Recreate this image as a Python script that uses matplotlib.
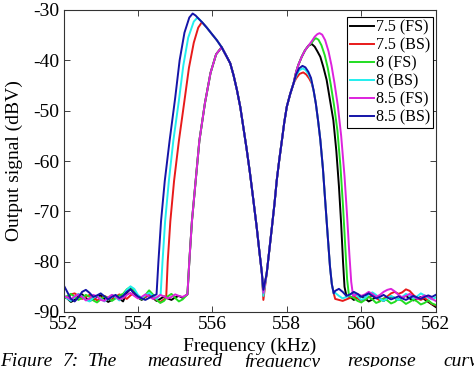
#  Setup required modules.
import matplotlib
matplotlib.use("Agg")
import matplotlib.pyplot as plt
import numpy as np

#  Legend labels and line colours (MATLAB style).
ls_labels = ["7.5 (FS)", "7.5 (BS)", "8 (FS)", "8 (BS)", "8.5 (FS)", "8.5 (BS)"]
ls_colors = ["#000000", "#e81a1a", "#22dd22", "#22eeee", "#dd22dd", "#1414a8"]

#  Noise floor before the jump, sampled every 0.1 kHz from 552 kHz.
na_left_black = [-87.0, -87.3, -88.0, -87.6, -86.8, -86.5, -87.2, -87.8, -87.5, -87.0, -86.7,
	-87.4, -88.0, -87.6, -86.9, -87.3, -87.9, -86.2, -85.4, -86.3, -87.1, -87.6, -87.0, -86.6,
	-87.2, -87.8, -87.4, -86.9, -87.3, -87.6, -87.1, -86.8, -87.2]
na_left_red = [-86.9, -87.2, -86.5, -86.3, -86.8, -87.4, -87.0, -86.6, -87.1, -87.7, -87.3,
	-86.8, -87.2, -87.6, -87.0, -86.5, -86.9, -87.4, -86.7, -86.2, -86.8, -87.3, -87.0, -86.6,
	-87.1, -87.6, -88.0, -87.5]
na_left_green = [-87.5, -86.8, -86.4, -87.0, -87.6, -87.2, -86.6, -87.0, -87.7, -88.1, -87.5,
	-86.9, -87.2, -87.8, -87.3, -86.7, -86.4, -85.5, -85.0, -85.8, -86.9, -87.5, -86.6, -85.7,
	-86.5, -87.6, -88.2, -87.8, -86.9, -86.4, -87.2, -87.9, -87.5]
na_left_cyan = [-86.6, -87.3, -87.8, -87.0, -86.4, -86.9, -87.6, -87.9, -87.2, -86.8, -87.4,
	-87.9, -87.3, -86.6, -87.1, -87.7, -86.8, -85.6, -84.9, -85.4, -86.6, -87.2, -86.7, -86.2,
	-86.8, -87.4]
na_left_magenta = [-86.8, -87.1, -87.5, -86.9, -86.5, -87.0, -87.7, -87.3, -86.6, -86.9, -87.6,
	-87.8, -87.1, -86.6, -86.9, -87.5, -87.2, -86.6, -86.2, -86.8, -87.3, -87.0, -86.5, -86.9,
	-87.4, -87.1, -86.6, -86.9, -87.3, -87.0, -86.5, -86.8, -87.0]
na_left_blue = [-84.6, -86.0, -87.4, -87.9, -87.1, -86.0, -85.6, -86.2, -87.0, -86.7, -86.3,
	-86.9, -87.5, -87.0, -86.6, -87.2, -86.8, -86.0, -85.5, -86.2, -86.9, -87.3, -87.6, -87.2,
	-86.8]

#  Noise floor after the drop, sampled every 0.1 kHz up to 562 kHz.
na_right_black = [-87.0, -87.6, -87.2, -86.8, -87.3, -87.9, -87.5, -87.0, -87.4, -87.8, -87.3,
	-86.9, -87.2, -87.6, -87.1, -86.8, -87.3, -87.7, -87.4, -87.0, -87.5, -88.0, -88.5, -89.0]
na_right_red = [-87.4, -87.6, -87.8, -87.5, -87.2, -86.9, -87.3, -87.8, -87.5, -87.0, -86.8,
	-87.2, -87.7, -87.4, -86.9, -86.3, -86.0, -86.4, -86.1, -85.5, -85.8, -86.6, -87.3, -87.6,
	-87.2, -87.8, -88.4, -88.7]
na_right_green = [-87.2, -87.8, -88.1, -87.6, -87.0, -87.5, -88.2, -87.9, -87.3, -87.7, -88.3,
	-88.0, -87.4, -87.8, -88.4, -88.0, -87.5, -87.9, -88.5, -88.2, -87.7, -88.3, -88.6]
na_right_cyan = [-86.2, -86.8, -87.3, -87.0, -86.5, -86.2, -86.9, -87.6, -87.2, -86.5, -86.1,
	-86.6, -87.4, -87.8, -87.3, -86.8, -87.2, -87.6, -87.0, -86.4, -86.8, -87.3, -86.9, -86.3,
	-86.7, -87.2, -87.5, -87.1]
na_right_magenta = [-86.4, -86.8, -86.5, -86.0, -86.4, -87.0, -86.6, -86.0, -85.6, -85.4, -85.9,
	-86.6, -87.1, -86.8, -86.4, -86.9, -87.4, -87.1, -86.7, -87.0, -87.4, -87.8]
na_right_blue = [-85.8, -85.4, -86.0, -86.8, -86.5, -86.0, -86.4, -87.0, -86.7, -86.3, -86.8,
	-87.3, -87.0, -86.6, -87.1, -87.5, -87.2, -86.9, -87.3, -87.6, -87.2, -86.8, -87.1, -87.4,
	-87.0, -86.7, -87.0, -86.6]

#  Start frequency of each right-hand noise floor (kHz).
ls_right_start = [559.7, 559.3, 559.8, 559.3, 559.9, 559.3]

#  Jump-up edges of the first peak (kHz, dBV).
f_rise_fs = [555.33, 555.38, 555.45, 555.55, 555.65, 555.80, 555.95, 556.10, 556.25]
v_rise_fs = [-86.5, -80.0, -72.0, -64.0, -56.0, -48.5, -42.5, -38.8, -37.4]
f_rise_red = [554.76, 554.80, 554.87, 554.97, 555.10, 555.25, 555.37, 555.50, 555.62, 555.72]
v_rise_red = [-87.0, -80.0, -72.0, -64.0, -56.0, -48.0, -41.5, -36.5, -33.5, -32.4]
f_rise_cyan = [554.61, 554.66, 554.73, 554.83, 554.95, 555.10, 555.22, 555.35, 555.50, 555.60]
v_rise_cyan = [-86.5, -80.0, -72.0, -64.0, -56.0, -48.0, -41.0, -35.5, -32.3, -31.5]
f_rise_blue = [554.50, 554.55, 554.62, 554.72, 554.85, 555.00, 555.12, 555.25, 555.38, 555.47]
v_rise_blue = [-86.5, -80.0, -72.0, -64.0, -56.0, -47.5, -40.0, -34.5, -31.5, -30.7]

#  Shared falling side of the first peak.
f_fall1 = [555.55, 555.60, 555.72, 555.85, 556.00, 556.12, 556.25, 556.38, 556.48, 556.57,
	556.66, 556.75, 556.83, 556.92, 557.01, 557.10, 557.19, 557.26, 557.33]
v_fall1 = [-31.1, -31.5, -32.4, -33.5, -34.9, -36.0, -37.4, -39.2, -40.6, -43.0,
	-45.9, -49.3, -53.2, -57.6, -62.4, -67.7, -73.1, -77.8, -82.3]

#  Dip between the peaks, one value per curve.
f_dip = 557.37
ls_dip = [-86.5, -87.6, -86.3, -86.8, -86.2, -85.6]

#  Shared rising side of the second peak.
f_rise2 = [557.46, 557.53, 557.60, 557.67, 557.73, 557.80, 557.87, 557.93, 558.00, 558.09, 558.18]
v_rise2 = [-82.3, -77.7, -73.1, -68.4, -63.8, -59.6, -55.8, -52.4, -49.2, -46.7, -44.6]

#  Top of the second peak, backward sweeps.
f_top_red = [558.25, 558.34, 558.44, 558.52, 558.60, 558.67]
v_top_red = [-43.6, -42.7, -42.4, -42.8, -43.6, -44.6]
f_top_cyan = [558.25, 558.33, 558.43, 558.50, 558.58, 558.65]
v_top_cyan = [-43.1, -42.0, -41.6, -41.9, -42.7, -43.8]
f_top_blue = [558.25, 558.33, 558.42, 558.50, 558.58, 558.65]
v_top_blue = [-42.8, -41.6, -41.1, -41.4, -42.3, -43.5]

#  Shared falling side of the second peak, backward sweeps.
f_fall_bs = [558.72, 558.78, 558.84, 558.90, 558.97, 559.03, 559.10, 559.16, 559.21, 559.26]
v_fall_bs = [-46.0, -48.6, -52.0, -55.8, -61.5, -67.8, -75.0, -81.0, -84.5, -86.3]

#  Shared upper part of the second peak, forward sweeps.
f_top_fs = [558.25, 558.31, 558.40, 558.49, 558.58]
v_top_fs = [-42.3, -40.9, -39.3, -38.0, -37.1]

#  Peak and falling side of the second peak, forward sweeps.
f_fall_black = [558.67, 558.75, 558.82, 558.90, 558.98, 559.07, 559.16, 559.25, 559.33, 559.40,
	559.46, 559.51, 559.55, 559.60]
v_fall_black = [-36.75, -37.3, -38.2, -39.3, -41.3, -43.9, -47.9, -51.9, -58.0, -65.0,
	-72.5, -80.0, -85.0, -86.8]
f_fall_green = [558.67, 558.73, 558.78, 558.85, 558.93, 559.02, 559.10, 559.18, 559.27, 559.36,
	559.44, 559.51, 559.57, 559.62, 559.67]
v_fall_green = [-36.5, -35.9, -35.6, -35.9, -37.0, -39.0, -41.5, -44.8, -49.0, -54.0,
	-61.0, -69.0, -77.0, -83.5, -86.8]
f_fall_magenta = [558.67, 558.75, 558.82, 558.88, 558.95, 559.03, 559.12, 559.20, 559.28, 559.37,
	559.46, 559.55, 559.62, 559.68, 559.73, 559.78]
v_fall_magenta = [-36.2, -35.3, -34.8, -34.6, -34.9, -36.0, -38.2, -41.0, -44.5, -49.0,
	-55.0, -63.0, -71.0, -78.5, -84.0, -86.8]

#  Caption words and their left edges (pixels).
ls_caption = ["Figure", "7:", "The", "measured", "frequency", "response", "curve"]
ls_caption_x = [0, 63, 88, 147, 245, 347, 443]


def build_curve(na_left, f_rise, v_rise, dip, f_top, v_top, f_fall, v_fall, f_right, na_right):
	#  Noise floor before the jump.
	f_l = 552.0 + 0.1 * np.arange(len(na_left))
	#  Falling side of the first peak, only after this curve's peak.
	f1 = np.array(f_fall1)
	v1 = np.array(v_fall1)
	keep = f1 > f_rise[-1]
	f_r = f_right + 0.1 * np.arange(len(na_right))
	f = np.concatenate([f_l, f_rise, f1[keep], [f_dip], f_rise2, f_top, f_fall, f_r])
	v = np.concatenate([na_left, v_rise, v1[keep], [dip], v_rise2, v_top, v_fall, na_right])
	return f, v


def plot_response():
	plt.rcParams["font.family"] = ["Liberation Serif", "DejaVu Serif"]
	plt.rcParams["axes.unicode_minus"] = False

	fig = plt.figure(figsize=(4.74, 3.67), dpi=100)
	ax = fig.add_axes([63.5 / 474, 55.0 / 367, 372.2 / 474, 302.0 / 367])

	#  Assemble the six curves from the shared pieces.
	l_curves = [
		build_curve(na_left_black, f_rise_fs, v_rise_fs, ls_dip[0], f_top_fs, v_top_fs,
			f_fall_black, v_fall_black, ls_right_start[0], na_right_black),
		build_curve(na_left_red, f_rise_red, v_rise_red, ls_dip[1], f_top_red, v_top_red,
			f_fall_bs, v_fall_bs, ls_right_start[1], na_right_red),
		build_curve(na_left_green, f_rise_fs, v_rise_fs, ls_dip[2], f_top_fs, v_top_fs,
			f_fall_green, v_fall_green, ls_right_start[2], na_right_green),
		build_curve(na_left_cyan, f_rise_cyan, v_rise_cyan, ls_dip[3], f_top_cyan, v_top_cyan,
			f_fall_bs, v_fall_bs, ls_right_start[3], na_right_cyan),
		build_curve(na_left_magenta, f_rise_fs, v_rise_fs, ls_dip[4], f_top_fs, v_top_fs,
			f_fall_magenta, v_fall_magenta, ls_right_start[4], na_right_magenta),
		build_curve(na_left_blue, f_rise_blue, v_rise_blue, ls_dip[5], f_top_blue, v_top_blue,
			f_fall_bs, v_fall_bs, ls_right_start[5], na_right_blue),
	]

	for (f, v), c, lab in zip(l_curves, ls_colors, ls_labels):
		ax.plot(f, v, color=c, lw=1.4, label=lab)

	#  Arrange the appearance of the axes.
	ax.set_xlim(552, 562)
	ax.set_ylim(-90, -30)
	ax.set_xticks(np.arange(552, 563, 2))
	ax.set_yticks(np.arange(-90, -29, 10))
	ax.tick_params(direction="in", top=True, right=True, length=4, width=0.6,
		labelsize=14, pad=3, colors="#222222", labelcolor="black")
	for s in ax.spines.values():
		s.set_linewidth(0.8)
		s.set_color("#333333")
	ax.set_xlabel("Frequency (kHz)", fontsize=14, labelpad=3)
	ax.set_ylabel("Output signal (dBV)", fontsize=14)
	ax.yaxis.set_label_coords(-0.11, 0.5)

	leg = ax.legend(loc="upper right", bbox_to_anchor=(0.993, 0.977), borderaxespad=0,
		fontsize=11.5, labelspacing=0.12, handlelength=1.55, handletextpad=0.1,
		borderpad=0.18, fancybox=False, framealpha=1)
	leg.get_frame().set_edgecolor("black")
	leg.get_frame().set_linewidth(0.8)

	#  Caption below the chart, cut off at the bottom edge.
	for w, x in zip(ls_caption, ls_caption_x):
		fig.text(x / 474.0, 14.0 / 367, w, fontsize=14, fontstyle="italic", va="top", ha="left")

	fig.savefig("out.png", dpi=100)


if __name__ == '__main__':
	plot_response()
